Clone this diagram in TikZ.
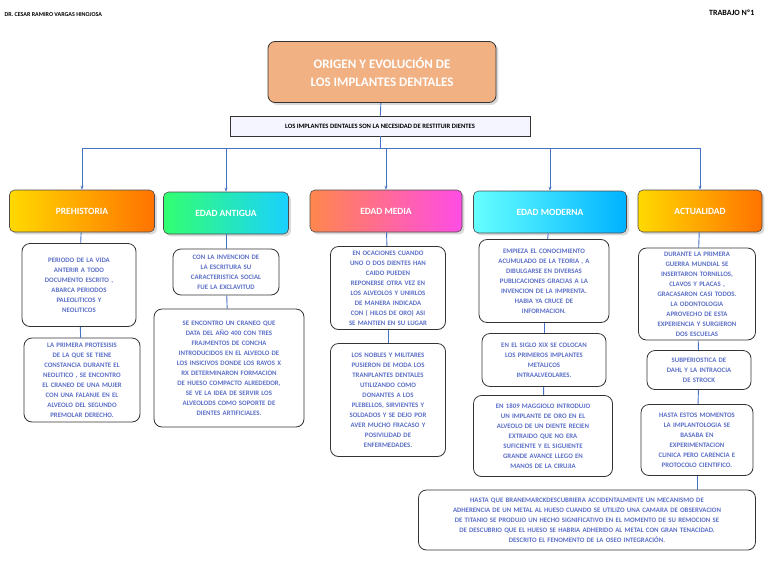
\documentclass[tikz,border=0pt]{standalone}
\usepackage{fontspec}
\setmainfont{Carlito}
\usetikzlibrary{positioning,shapes,arrows.meta,shadows}
\definecolor{txtblue}{HTML}{5B6FC8}
\definecolor{lineblue}{HTML}{4472C4}
\definecolor{peach}{HTML}{F2B183}
\tikzset{
  hdr/.style={rounded corners=5pt,draw=black!70,line width=0.6pt,text=white,font=\bfseries\fontsize{9.5}{10}\selectfont,minimum height=42pt,drop shadow={opacity=0.3}},
  info/.style={rounded corners=8pt,draw=black!80,line width=0.8pt,fill=white,text=txtblue,align=center,font=\bfseries\fontsize{6.8}{10}\selectfont,inner sep=1pt},
  link/.style={draw=lineblue,line width=0.9pt},
}
\begin{document}
\begin{tikzpicture}[x=1pt,y=-1pt,>={Stealth[length=4pt]}]
\useasboundingbox (0,0) rectangle (768,576);

		%header texts
		\node[anchor=west,font=\bfseries\fontsize{6}{6}\selectfont] (author) at (1,15) {DR. CESAR RAMIRO VARGAS HINOJOSA};
		\node[anchor=east,font=\bfseries\fontsize{8}{8}\selectfont] (work) at (758,13) {TRABAJO Nº1};

		%title
		\node[rounded corners=7pt,draw=black!80,line width=0.8pt,fill=peach,text=white,align=center,minimum width=228pt,minimum height=61pt,font=\bfseries\fontsize{13}{18}\selectfont,drop shadow={opacity=0.3}] (title) at (382,72) {ORIGEN Y EVOLUCIÓN DE\\LOS IMPLANTES DENTALES};
		\node[draw=black!80,line width=0.6pt,fill=blue!4,minimum width=300pt,minimum height=20pt,font=\bfseries\fontsize{6.6}{7}\selectfont] (sub) at (380,126) {LOS IMPLANTES DENTALES SON LA NECESIDAD DE RESTITUIR DIENTES};
		\coordinate (bus) at (384,148);

		%the five ages
		\node[hdr,minimum width=145pt,left color=orange!30!yellow,right color=orange!90!red] (pre) at (82,211) {PREHISTORIA};
		\node[hdr,minimum width=125pt,left color=green!70!cyan!80,right color=cyan!80!blue!90] (ant) at (226,213) {EDAD ANTIGUA};
		\node[hdr,minimum width=152pt,left color=red!35!orange!70,right color=magenta!60!pink] (med) at (386,211) {EDAD MEDIA};
		\node[hdr,minimum width=153pt,left color=cyan!60,right color=cyan!70!blue] (mod) at (550,212) {EDAD MODERNA};
		\node[hdr,minimum width=124pt,left color=orange!30!yellow,right color=orange!90!red] (act) at (700,211) {ACTUALIDAD};

		\draw[link] (title) -- (sub);
		\draw[link] (sub) -- (sub.south |- bus);
		\draw[link] (pre.north |- bus) -- (act.north |- bus);
		\foreach \h in {pre,ant,med,mod,act}
			\draw[link,->] (\h.north |- bus) -- (\h.north);

		%prehistoria
		\node[info,text width=112pt,minimum height=83pt] (pre1) at (79,285) {PERIODO DE LA VIDA\\ANTERIR A TODO\\DOCUMENTO ESCRITO ,\\ABARCA PERIODOS\\PALEOLITICOS Y\\NEOLITICOS};
		\node[info,text width=114pt,minimum height=84pt] (pre2) at (82,380) {LA PRIMERA PROTESISIS\\DE LA QUE SE TIENE\\CONSTANCIA DURANTE EL\\NEOLITICO , SE ENCONTRO\\EL CRANEO DE UNA MUJER\\CON UNA FALANJE EN EL\\ALVEOLO DEL SEGUNDO\\PREMOLAR DERECHO.};
		\draw[link] (pre) -- (pre1);
		\draw[link] (pre1) -- (pre2);

		%edad antigua
		\node[info,text width=104pt,minimum height=46pt] (ant1) at (226,272) {CON LA INVENCION DE\\LA ESCRITURA SU\\CARACTERISTICA SOCIAL\\FUE LA EXCLAVITUD};
		\node[info,text width=148pt,minimum height=118pt] (ant2) at (229,368) {SE ENCONTRO UN CRANEO QUE\\DATA DEL AÑO 400 CON TRES\\FRAJMENTOS DE CONCHA\\INTRODUCIDOS EN EL ALVEOLO DE\\LOS INSICIVOS DONDE LOS RAYOS X\\RX DETERMINARON FORMACION\\DE HUESO COMPACTO ALREDEDOR,\\SE VE LA IDEA DE SERVIR LOS\\ALVEOLODS COMO SOPORTE DE\\DIENTES ARTIFICIALES.};
		\draw[link] (ant) -- (ant1);
		\draw[link] (ant1) -- (ant2);

		%edad media
		\node[info,text width=113pt,minimum height=83pt] (med1) at (388,288) {EN OCACIONES CUANDO\\UNO O DOS DIENTES HAN\\CAIDO PUEDEN\\REPONERSE OTRA VEZ EN\\LOS ALVEOLOS Y UNIRLOS\\DE MANERA INDICADA\\CON ( HILOS DE ORO) ASI\\SE MANTIEN EN SU LUGAR};
		\node[info,text width=113pt,minimum height=113pt] (med2) at (388,400) {LOS NOBLES Y MILITARES\\PUSIERON DE MODA LOS\\TRANPLANTES DENTALES\\UTILIZANDO COMO\\DONANTES A LOS\\PLEBELLOS, SIRVIENTES Y\\SOLDADOS Y SE DEJO POR\\AVER MUCHO FRACASO Y\\POSIVILIDAD DE\\ENFERMEDADES.};
		\draw[link] (med) -- (med1);
		\draw[link] (med1) -- (med2);

		%edad moderna
		\node[info,text width=128pt,minimum height=83pt] (mod1) at (544,281) {EMPIEZA EL CONOCIMIENTO\\ACUMULADO DE LA TEORIA , A\\DIBULGARSE EN DIVERSAS\\PUBLICACIONES GRACIAS A LA\\INVENCION DE LA IMPRENTA.\\HABIA YA CRUCE DE\\INFORMACION.};
		\node[info,text width=122pt,minimum height=53pt] (mod2) at (544,360) {EN EL SIGLO XIX SE COLOCAN\\LOS PRIMEROS IMPLANTES\\METALICOS\\INTRAALVEOLARES.};
		\node[info,text width=137pt,minimum height=81pt] (mod3) at (543,436) {EN 1809 MAGGIOLO INTRODUJO\\UN IMPLANTE DE ORO EN EL\\ALVEOLO DE UN DIENTE RECIEN\\EXTRAIDO QUE NO ERA\\SUFICIENTE Y EL SIGUIENTE\\GRANDE AVANCE LLEGO EN\\MANOS DE LA CIRUJIA};
		\draw[link] (mod) -- (mod1);
		\draw[link] (mod1) -- (mod2);
		\draw[link] (mod2) -- (mod3);

		%actualidad
		\node[info,text width=115pt,minimum height=92pt] (act1) at (697,294) {DURANTE LA PRIMERA\\GUERRA MUNDIAL SE\\INSERTARON TORNILLOS,\\CLAVOS Y PLACAS ,\\GRACASARON CASI TODOS.\\LA ODONTOLOGIA\\APROVECHO DE ESTA\\EXPERIENCIA Y SURGIERON\\DOS ESCUELAS};
		\node[info,text width=102pt,minimum height=39pt] (act2) at (699,370) {SUBPERIOSTICA DE\\DAHL Y LA INTRAOCIA\\DE STROCK};
		\node[info,text width=110pt,minimum height=71pt] (act3) at (697,440) {HASTA ESTOS MOMENTOS\\LA IMPLANTOLOGIA SE\\BASABA EN\\EXPERIMENTACION\\CLINICA PERO CARENCIA E\\PROTOCOLO CIENTIFICO.};
		\draw[link] (act) -- (act1);
		\draw[link] (act1) -- (act2);
		\draw[link] (act2) -- (act3);

		%oseointegracion
		\node[info,text width=335pt,minimum height=60pt] (final) at (587,520) {HASTA QUE BRANEMARCKDESCUBRIERA ACCIDENTALMENTE UN MECANISMO DE\\ADHERENCIA DE UN METAL AL HUESO CUANDO SE UTILIZO UNA CAMARA DE OBSERVACION\\DE TITANIO SE PRODUJO UN HECHO SIGNIFICATIVO EN EL MOMENTO DE SU REMOCION SE\\DE DESCUBRIO QUE EL HUESO SE HABRIA ADHERIDO AL METAL CON GRAN TENACIDAD.\\DESCRITO EL FENOMENTO DE LA OSEO INTEGRACIÓN.};
		\draw[link] (act3.south) -- (act3.south |- final.north);

\end{tikzpicture}
\end{document}
